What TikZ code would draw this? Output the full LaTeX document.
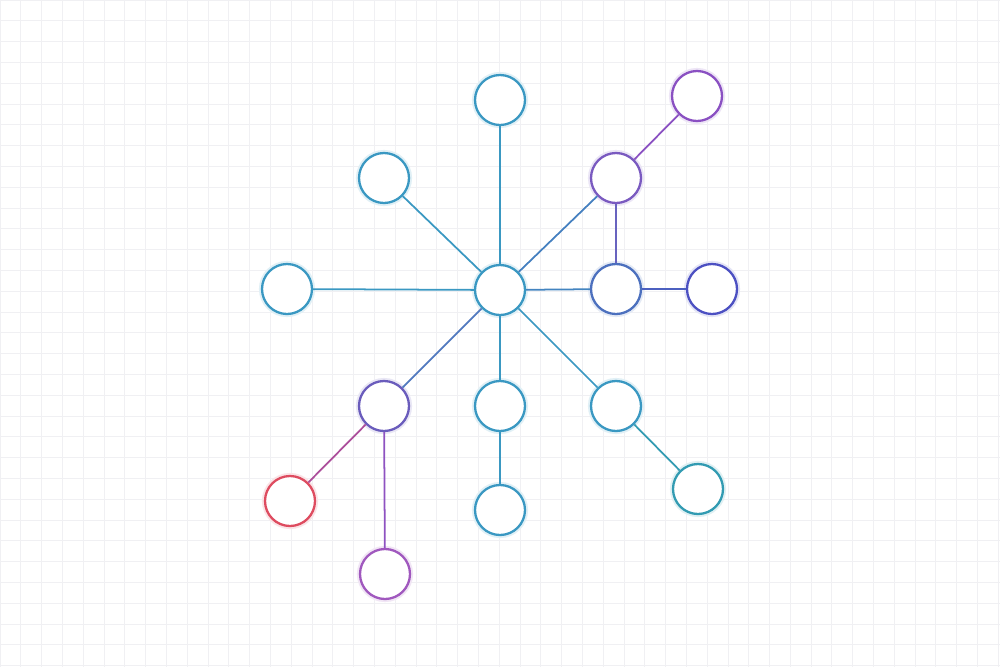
\documentclass[tikz,border=0pt]{standalone}
\usepackage{xcolor}
\usepackage{tikz}
\definecolor{tealblue}{HTML}{3A98C2}
\definecolor{tealgreen}{HTML}{329BB2}
\definecolor{violet1}{HTML}{7A5AC0}
\definecolor{violet2}{HTML}{8A50C2}
\definecolor{indigo1}{HTML}{4C70BE}
\definecolor{indigo2}{HTML}{4C50C2}
\definecolor{indigo3}{HTML}{6A5CBC}
\definecolor{rose}{HTML}{DE4C60}
\definecolor{lilac}{HTML}{A058BE}
\definecolor{gridgray}{HTML}{F0F0F3}
\tikzset{
  pt/.style = {circle, draw=#1, line width=1.3pt, fill=white, inner sep=0pt, minimum size=1cm,
    preaction={draw=#1!15, line width=3.5pt}},% noeud avec halo
  pt/.default = tealblue,
  ln/.style = {draw=#1, line width=1pt},
  ln/.default = tealblue
}
\begin{document}
\begin{tikzpicture}[x=0.02cm,y=-0.02cm]
\useasboundingbox (0,0) rectangle (1000,667);
\fill[white] (0,0) rectangle (1000,667);
\draw[gridgray, line width=0.4pt, step=0.416cm] (0,0) grid (1000,667);
% noeuds
\node [pt] (hub) at (500,290) {};
\node [pt] (top) at (500,100) {};
\node [pt] (upl) at (384,178) {};
\node [pt] (lft) at (287,289) {};
\node [pt=violet1] (upr) at (616,178) {};
\node [pt=violet2] (upr2) at (697,96) {};
\node [pt=indigo1] (rgt) at (616,289) {};
\node [pt=indigo2] (rgt2) at (712,289) {};
\node [pt=indigo3] (lwl) at (384,406) {};
\node [pt=rose] (lwl2) at (290,501) {};
\node [pt=lilac] (lwl3) at (385,574) {};
\node [pt] (mid) at (500,406) {};
\node [pt] (mid2) at (500,510) {};
\node [pt] (lwr) at (616,406) {};
\node [pt=tealgreen] (lwr2) at (698,489) {};
% liens
\path [ln] (hub) -- (top);
\path [ln] (hub) -- (upl);
\path [ln] (hub) -- (lft);
\path [ln=indigo1!60!tealblue] (hub) -- (upr);
\path [ln=indigo1!50!tealblue] (hub) -- (rgt);
\path [ln=indigo3!50!tealblue] (hub) -- (lwl);
\path [ln] (hub) -- (mid);
\path [ln] (hub) -- (lwr);
\path [ln=violet2] (upr) -- (upr2);
\path [ln=violet1!60!indigo1] (upr) -- (rgt);
\path [ln=indigo1!50!indigo2] (rgt) -- (rgt2);
\path [ln=violet2!60!rose] (lwl) -- (lwl2);
\path [ln=violet2!80!lilac] (lwl) -- (lwl3);
\path [ln] (mid) -- (mid2);
\path [ln=tealgreen] (lwr) -- (lwr2);
\end{tikzpicture}
\end{document}
